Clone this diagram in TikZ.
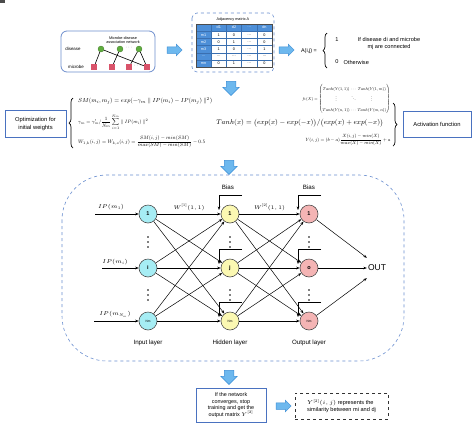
\RequirePackage{fix-cm}
\documentclass[tikz,border=0pt]{standalone}
\usepackage{amsmath}
\usepackage{graphicx}
\usepackage[no-math]{fontspec}
\setmainfont{Liberation Sans}
\usetikzlibrary{positioning, shapes.arrows, calc, arrows.meta, decorations.pathreplacing}

\definecolor{boxblue}{HTML}{4A72C0}
\definecolor{dashblue}{HTML}{6B8FD0}
\definecolor{arrowfill}{HTML}{6DB8EE}
\definecolor{arrowline}{HTML}{3D8FD6}
\definecolor{headblue}{HTML}{4D8FD8}
\definecolor{gridblue}{HTML}{3A6FB0}
\definecolor{dotgreen}{HTML}{5FAE3E}
\definecolor{sqred}{HTML}{D9536A}
\definecolor{incyan}{HTML}{A6EDF4}
\definecolor{hidyellow}{HTML}{FBF8B2}
\definecolor{outpink}{HTML}{F4B4B4}

\tikzset{
	tiny/.style={font=\fontsize{3.8}{4.4}\selectfont, inner sep=0.5pt},
	lbl/.style={font=\fontsize{5.6}{6.6}\selectfont, inner sep=0.5pt},
	frm/.style={font=\fontsize{8}{9}\selectfont, inner sep=0pt},
	box/.style={draw=boxblue, line width=0.9pt, align=center, inner sep=1pt, font=\fontsize{5.8}{7.2}\selectfont},
	barrow/.style={single arrow, draw=arrowline, fill=arrowfill, line width=0.5pt, minimum height=15pt, inner sep=3pt, single arrow head extend=2.5pt},
	darrow/.style={barrow, shape border rotate=270, minimum height=14pt, inner sep=4.5pt, single arrow head extend=3.5pt},
	neuron/.style={circle, draw=black!70, line width=0.6pt, minimum size=18pt, inner sep=0pt, font=\fontsize{5.5}{6}\selectfont\bfseries},
	conn/.style={-{Stealth[length=3.5pt, width=2.6pt]}, line width=0.5pt},
	brc/.style={decorate, decoration={brace, amplitude=4pt}, line width=0.7pt},
}

\begin{document}
\begin{tikzpicture}[x=1pt, y=-1pt]
		\useasboundingbox (0,0) rectangle (474,424);
		\fill[white] (0,0) rectangle (474,424);
		\fill[black!70] (0,0) rectangle (5,3);
		
		% microbe-disease network
		\draw[boxblue!80, line width=0.8pt, rounded corners=6pt] (61,31) rectangle (155,72);
		\node[tiny, align=center] (nettitle) at (123,40) {Microbe-disease\\association network};
		\node[tiny, font=\fontsize{4.4}{5}\selectfont] (dislab) at (73,49) {disease};
		\node[tiny, font=\fontsize{4.4}{5}\selectfont] (miclab) at (76,67) {microbe};
		\foreach \n/\x in {g1/101, g2/120, g3/139}
			\node[circle, fill=dotgreen, draw=dotgreen!70!black, line width=0.3pt, minimum size=6pt, inner sep=0pt] (\n) at (\x,49) {};
		\foreach \n/\x in {r1/94, r2/112, r3/129, r4/147}
			\node[fill=sqred, minimum size=6pt, inner sep=0pt] (\n) at (\x,67) {};
		\foreach \a/\b in {g1/r1, g1/r4, g2/r2, g3/r3, g3/r4}
			\draw[line width=0.6pt] (\a) -- (\b);
		\node[tiny] (gdots) at (129.5,48) {\textbf{$\cdots$}};
		\node[tiny] (rdots) at (138,66) {\textbf{$\cdots$}};
		\node[barrow] (ar1) at (173,50) {};
		
		% adjacency matrix
		\draw[dashed, dashblue, line width=0.6pt, rounded corners=5pt] (192,13) rectangle (274,72);
		\node[tiny] (adjtitle) at (233,19.5) {Adjacency matrix A};
		\fill[headblue] (196,24) rectangle (272,31.2);
		\fill[headblue] (196,31.2) rectangle (211.2,67.2);
		\foreach \i in {1,...,4}
			\draw[gridblue, line width=0.4pt] ({196+15.2*\i},24) -- ({196+15.2*\i},67.2);
		\foreach \j in {1,...,5}
			\draw[gridblue, line width=0.4pt] (196,{24+7.2*\j}) -- (272,{24+7.2*\j});
		\draw[black!70, line width=0.5pt] (196,24) rectangle (272,67.2);
		\foreach \t [count=\i] in {d1, d2, \dots, dn}
			\node[tiny, text=white] (hd-\i) at ({203.6+15.2*\i},27.6) {\t};
		\foreach \t [count=\j] in {m1, m2, m3, \dots, mn}
			\node[tiny, text=white] (hm-\j) at (203.6,{27.6+7.2*\j}) {\t};
		\foreach \row [count=\j] in {{1,0,\dots,0},{0,1,\dots,0},{1,0,\dots,1},{\dots,\dots,\dots,\dots},{0,1,\dots,0}}
			\foreach \t [count=\i] in \row
				\node[tiny] (c-\j-\i) at ({203.6+15.2*\i},{27.6+7.2*\j}) {\t};
		
		\node[barrow] (ar2) at (285,50) {};
		\node[lbl, font=\fontsize{5.4}{6}\selectfont] (aij) at (309,51) {A(i,j) =};
		\draw[brc] (327,68) -- (327,33);
		\node[lbl] (one) at (337,40) {1};
		\node[lbl, align=center] (cond) at (389,43.5) {If disease di and microbe\\mj are connected};
		\node[lbl] (zero) at (337,62) {0};
		\node[lbl, anchor=west] (other) at (343,62) {Otherwise};
		\node[darrow] (ar3) at (231,86) {};
		
		% weights and activation
		\node[box, minimum width=61pt, minimum height=27pt] (opt) at (35.5,124) {Optimization for\\initial weights};
		\draw[brc] (73,148) -- (73,98);
		\node[frm, anchor=west] (smf) at (78,101) {\resizebox{134pt}{!}{$SM(m_i,m_j)=exp(-\gamma_m \parallel IP(m_i)-IP(m_j)\parallel^2)$}};
		\node[frm, anchor=west] (gmf) at (78,122) {\resizebox{70pt}{!}{$\gamma_m=\gamma_m'/\dfrac{1}{N_m}\displaystyle\sum_{i=1}^{N_m}\parallel IP(m_i)\parallel^2$}};
		\node[frm, anchor=west] (wf) at (78,142) {\resizebox{127pt}{!}{$W_{1,k}(i,j)=W_{k,o}(i,j)=\dfrac{SM(i,j)-min(SM)}{max(SM)-min(SM)}-0.5$}};
		\node[frm] (f1) at (346,99) {\resizebox{88pt}{!}{\setlength\arraycolsep{1pt}\renewcommand\arraystretch{2.2}$f_1(X)=\begin{pmatrix}Tanh(Y(1,1)) & \cdots & Tanh(Y(1,m))\\ \vdots & \ddots & \vdots\\ Tanh(Y(n,1)) & \cdots & Tanh(Y(m,n))\end{pmatrix}$}};
		\node[frm] (tanh) at (300,123) {\resizebox{167pt}{!}{$Tanh(x)=\big(exp(x)-exp(-x)\big)/\big(exp(x)+exp(-x)\big)$}};
		\node[frm] (yf) at (348,140) {\resizebox{85pt}{!}{$Y(i,j)=(b-a)\dfrac{X(i,j)-min(X)}{max(X)-min(X)}+a$}};
		\draw[brc] (393,103) -- (393,146);
		\node[box, minimum width=68pt, minimum height=26pt] (act) at (437,124) {Activation function};
		\node[darrow] (ar4) at (229,165) {};
		
		% network
		\draw[dashed, dashblue, line width=0.6pt, rounded corners=45pt] (62,175) rectangle (404,361);
		\node[neuron, fill=incyan] (in1) at (148,214) {1};
		\node[neuron, fill=incyan] (ini) at (148,268) {i};
		\node[neuron, fill=incyan, font=\fontsize{3.2}{4}\selectfont] (inN) at (148,321) {Nm};
		\node[neuron, fill=hidyellow] (hid1) at (230,214) {1};
		\node[neuron, fill=hidyellow] (hidj) at (230,268) {j};
		\node[neuron, fill=hidyellow, font=\fontsize{3.2}{4}\selectfont] (hidN) at (230,321) {Nm};
		\node[neuron, fill=outpink] (out1) at (309,214) {1};
		\node[neuron, fill=outpink] (outo) at (309,268) {o};
		\node[neuron, fill=outpink, font=\fontsize{3.2}{4}\selectfont] (outN) at (309,321) {Nm};
		\node[font=\fontsize{8.5}{9}\selectfont, minimum height=20pt, inner sep=1pt] (OUT) at (377,268) {OUT};
		\foreach \a in {in1, ini, inN}
			\foreach \b in {hid1, hidj, hidN}
				\draw[conn] (\a) -- (\b);
		\foreach \a in {hid1, hidj, hidN}
			\foreach \b in {out1, outo, outN}
				\draw[conn] (\a) -- (\b);
		\draw[conn] (out1) -- (OUT.north west);
		\draw[conn] (outo) -- (OUT.west);
		\draw[conn] (outN) -- (OUT.south west);
		\node[font=\fontsize{5.4}{6}\selectfont, above] (w1) at ($(in1)!0.5!(hid1)$) {$W^{[1]}(1,1)$};
		\node[font=\fontsize{5.4}{6}\selectfont, above] (w2) at ($(hid1)!0.5!(out1)$) {$W^{[2]}(1,1)$};
		
		\coordinate (ip1) at (95,214);
		\coordinate (ipi) at (102,268);
		\coordinate (ipN) at (94,321);
		\draw[conn] (ip1) -- (in1);
		\draw[conn] (ipi) -- (ini);
		\draw[conn] (ipN) -- (inN);
		\node[font=\fontsize{5.6}{6}\selectfont] (ip1l) at (111,207) {$IP(m_1)$};
		\node[font=\fontsize{5.6}{6}\selectfont] (ipil) at (115,262) {$IP(m_i)$};
		\node[font=\fontsize{5.6}{6}\selectfont] (ipNl) at (115,314) {$IP(m_{N_m})$};
		
		% bias
		\foreach \n in {hid1, hidj, hidN, out1, outo, outN}
			\draw[conn] ($(\n)+(12,-19)$) -- ($(\n)+(-11,-19)$) -- ($(\n)+(-11,-4)$);
		\node[lbl, font=\fontsize{6.2}{7}\selectfont] (bias1) at (228,187) {Bias};
		\node[lbl, font=\fontsize{6.2}{7}\selectfont] (bias2) at (309,187) {Bias};
		
		% dots
		\foreach \x in {148, 230, 309}
			\foreach \y in {237, 242, 247, 290, 295, 300}
				\fill (\x,\y) circle (0.9);
		
		\node[lbl, font=\fontsize{6.2}{7}\selectfont] (inlab) at (148,343) {Input layer};
		\node[lbl, font=\fontsize{6.2}{7}\selectfont] (hidlab) at (230,343) {Hidden layer};
		\node[lbl, font=\fontsize{6.2}{7}\selectfont] (outlab) at (309,343) {Output layer};
		
		% result
		\node[darrow] (ar5) at (229,375) {};
		\node[box, minimum width=70pt, minimum height=34pt, font=\fontsize{5.4}{6.4}\selectfont] (conv) at (231,405) {If the network\\converges, stop\\training and get the\\output matrix $Y^{[2]}$};
		\node[barrow] (ar6) at (282,406) {};
		\node[draw=black!80, dashed, line width=0.6pt, minimum width=93pt, minimum height=26pt, align=left, font=\fontsize{5.6}{6.8}\selectfont] (simbox) at (341.5,406) {$Y^{[2]}(i,j)$ represents the\\similarity between mi and dj};
\end{tikzpicture}
\end{document}
